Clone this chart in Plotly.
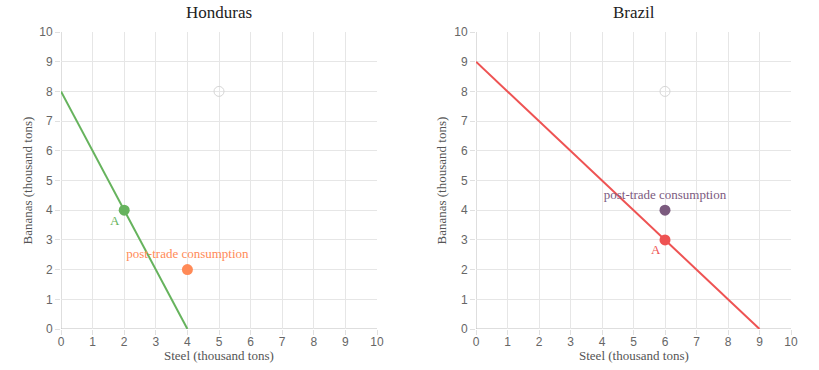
import plotly.graph_objects as go

# Data
countries = ["Honduras", "Brazil"]
ppf_x = [[0, 4], [0, 9]]
ppf_y = [[8, 0], [9, 0]]
line_colors = ["#66b35d", "#ee5353"]
a_points = [(2, 4), (6, 3)]
post_points = [(4, 2), (6, 4)]
post_colors = ["#ff8a57", "#7b5a7e"]
ghost_points = [(5, 8), (6, 8)]
tick_vals = list(range(0, 11))

W, H = 819, 370
x_domains = [[61 / W, 377 / W], [476 / W, 791 / W]]
y_domain = [(H - 329) / H, (H - 32) / H]

fig = go.Figure()
serif = "Liberation Serif, Times New Roman, serif"
sans = "Liberation Sans, Arial, sans-serif"

for i, c in enumerate(countries):
    xa = "x" if i == 0 else "x2"
    ya = "y" if i == 0 else "y2"
    # PPF line
    fig.add_trace(go.Scatter(x=ppf_x[i], y=ppf_y[i], mode="lines",
                             line=dict(color=line_colors[i], width=2),
                             xaxis=xa, yaxis=ya, showlegend=False, hoverinfo="skip"))
    # ghost hollow circle
    fig.add_trace(go.Scatter(x=[ghost_points[i][0]], y=[ghost_points[i][1]], mode="markers",
                             marker=dict(size=10, color="rgba(0,0,0,0)",
                                         line=dict(color="#d6d6d6", width=1)),
                             xaxis=xa, yaxis=ya, showlegend=False))
    # post-trade consumption point
    fig.add_trace(go.Scatter(x=[post_points[i][0]], y=[post_points[i][1]], mode="markers+text",
                             marker=dict(size=11, color=post_colors[i]),
                             text=["post-trade consumption"], textposition="top center",
                             textfont=dict(family=serif, size=13, color=post_colors[i]),
                             xaxis=xa, yaxis=ya, showlegend=False))
    # point A
    fig.add_trace(go.Scatter(x=[a_points[i][0]], y=[a_points[i][1]], mode="markers",
                             marker=dict(size=11, color=line_colors[i]),
                             xaxis=xa, yaxis=ya, showlegend=False))
    fig.add_annotation(x=a_points[i][0], y=a_points[i][1], xref=xa, yref=ya,
                       text="A", showarrow=False, xshift=-9, yshift=-10,
                       font=dict(family=serif, size=13, color=line_colors[i]))
    # title
    cx = (x_domains[i][0] + x_domains[i][1]) / 2
    fig.add_annotation(x=cx, y=1 - 12 / H, xref="paper", yref="paper", text=c,
                       showarrow=False, font=dict(family=serif, size=17, color="#222"),
                       xanchor="center", yanchor="middle")
    fig.add_annotation(x=cx, y=1 - 355 / H, xref="paper", yref="paper",
                       text="Steel (thousand tons)", showarrow=False,
                       font=dict(family=serif, size=13, color="#555"),
                       xanchor="center", yanchor="middle")
    fig.add_annotation(x=(27 if i == 0 else 441) / W, y=(y_domain[0] + y_domain[1]) / 2,
                       xref="paper", yref="paper", text="Bananas (thousand tons)",
                       textangle=-90, showarrow=False,
                       font=dict(family=serif, size=13, color="#555"),
                       xanchor="center", yanchor="middle")

axis_common = dict(range=[0, 10], tickvals=tick_vals, showgrid=True, gridcolor="#e6e6e6",
                   gridwidth=1, zeroline=False, showline=False, ticks="outside", ticklen=5,
                   tickcolor="#e0e0e0", tickfont=dict(family=sans, size=12, color="#666"),
                   fixedrange=True, automargin=False)

layout = dict(width=W, height=H, margin=dict(l=0, r=0, t=0, b=0, autoexpand=False),
              paper_bgcolor="white", plot_bgcolor="white", showlegend=False)
for i in range(2):
    sx = "" if i == 0 else "2"
    layout["xaxis" + sx] = dict(axis_common, domain=x_domains[i], anchor="y" + sx,
                                ticklabelstandoff=-3)
    layout["yaxis" + sx] = dict(axis_common, domain=y_domain, anchor="x" + sx)
fig.update_layout(**layout)

# darker axis lines at zero via shapes
for i in range(2):
    xa = "x" if i == 0 else "x2"
    ya = "y" if i == 0 else "y2"
    fig.add_shape(type="line", x0=0, x1=0, y0=0, y1=10, xref=xa, yref=ya,
                  line=dict(color="#bdbdbd", width=1), layer="below")
    fig.add_shape(type="line", x0=0, x1=10, y0=0, y1=0, xref=xa, yref=ya,
                  line=dict(color="#bdbdbd", width=1), layer="below")

fig.write_html("out.html", config={"displayModeBar": False},
               post_script="document.body.style.margin='0';document.body.style.overflow='hidden';")
